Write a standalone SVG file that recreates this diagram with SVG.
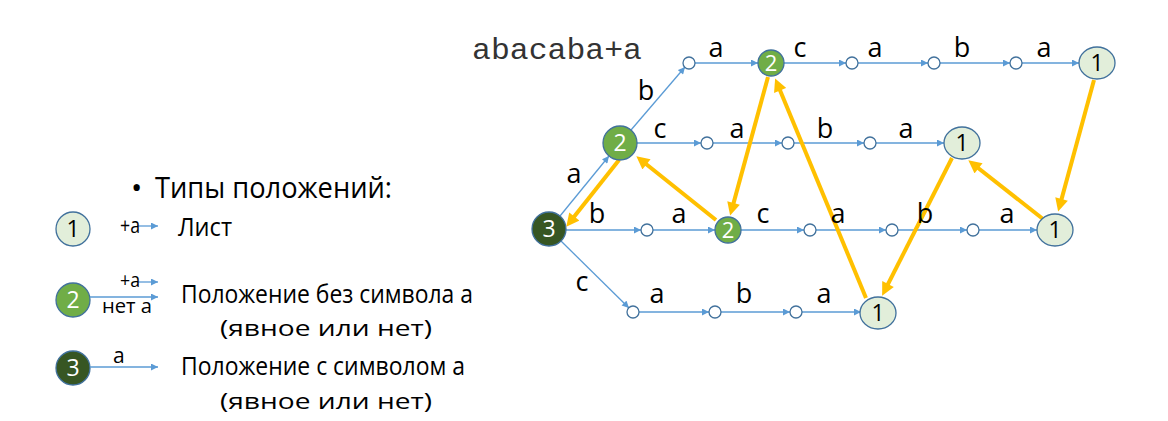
<svg xmlns="http://www.w3.org/2000/svg" width="1168" height="421" viewBox="0 0 1168 421">
<defs>
<style>
.e{stroke:#5B9BD5;stroke-width:1.3;fill:none;marker-end:url(#ba)}
.o{stroke:#FFC000;stroke-width:4;fill:none;marker-end:url(#oa)}
.s{fill:#fff;stroke:#41719C;stroke-width:1.3}
.n1{fill:#E2EEDA;stroke:#41719C;stroke-width:1.3}
.n2{fill:#70AD47;stroke:#41719C;stroke-width:1.3}
.n3{fill:#375623;stroke:#41719C;stroke-width:1.3}
.t{font-family:"Open Sans","Liberation Sans",sans-serif;fill:#000}
.lb{font-family:"Open Sans","Liberation Sans",sans-serif;font-size:27px;fill:#000;text-anchor:middle}
.nt{font-family:"Open Sans","Liberation Sans",sans-serif;text-anchor:middle}
.mono{font-family:"Courier New","Liberation Mono","DejaVu Sans Mono",monospace;font-size:29px;fill:#333}
</style>
<marker id="ba" viewBox="0 0 10 10" refX="10" refY="5" markerWidth="8" markerHeight="7" markerUnits="userSpaceOnUse" orient="auto"><path d="M0,0 L10,5 L0,10 z" fill="#5B9BD5"/></marker>
<marker id="oa" viewBox="0 0 10 10" refX="6" refY="5" markerWidth="14" markerHeight="13" markerUnits="userSpaceOnUse" orient="auto"><path d="M0,0 L10,5 L0,10 z" fill="#FFC000"/></marker>
</defs>

<text class="mono" x="472" y="59" textLength="170" lengthAdjust="spacingAndGlyphs">abacaba+a</text>

<g id="connectors">
<line class="e" x1="695" y1="63" x2="758" y2="63"/>
<line class="e" x1="784" y1="63" x2="846" y2="63"/>
<line class="e" x1="858" y1="63" x2="928" y2="63"/>
<line class="e" x1="940" y1="63" x2="1010" y2="63"/>
<line class="e" x1="1022" y1="63" x2="1079" y2="63"/>
<line class="e" x1="637" y1="143" x2="701" y2="143"/>
<line class="e" x1="713" y1="143" x2="782" y2="143"/>
<line class="e" x1="794" y1="143" x2="864" y2="143"/>
<line class="e" x1="876" y1="143" x2="944" y2="143"/>
<line class="e" x1="566" y1="230" x2="641" y2="230"/>
<line class="e" x1="653" y1="230" x2="715" y2="230"/>
<line class="e" x1="741" y1="230" x2="804" y2="230"/>
<line class="e" x1="816" y1="230" x2="886" y2="230"/>
<line class="e" x1="898" y1="230" x2="967" y2="230"/>
<line class="e" x1="979" y1="230" x2="1037" y2="230"/>
<line class="e" x1="639" y1="312" x2="709" y2="312"/>
<line class="e" x1="721" y1="312" x2="790" y2="312"/>
<line class="e" x1="802" y1="312" x2="861" y2="312"/>
<line class="e" x1="560" y1="216" x2="609" y2="156"/>
<line class="e" x1="631" y1="130" x2="685" y2="67"/>
<line class="e" x1="561" y1="241" x2="629" y2="308"/>
<line class="o" x1="619" y1="160" x2="569.5" y2="222.6"/>
<line class="o" x1="716" y1="220" x2="640.4" y2="159.5"/>
<line class="o" x1="768" y1="77" x2="731.5" y2="210.6"/>
<line class="o" x1="866" y1="298" x2="777.1" y2="83.2"/>
<line class="o" x1="952" y1="158" x2="884.5" y2="291"/>
<line class="o" x1="1043" y1="219" x2="972.4" y2="163.5"/>
<line class="o" x1="1094" y1="80" x2="1059.5" y2="206.6"/>
</g>

<g id="edge-labels">
<text class="lb" x="716" y="57">a</text>
<text class="lb" x="800" y="57">c</text>
<text class="lb" x="875" y="57">a</text>
<text class="lb" x="962" y="57">b</text>
<text class="lb" x="1044" y="57">a</text>
<text class="lb" x="646" y="100">b</text>
<text class="lb" x="660" y="138">c</text>
<text class="lb" x="737" y="138">a</text>
<text class="lb" x="825" y="138">b</text>
<text class="lb" x="906" y="138">a</text>
<text class="lb" x="574" y="183">a</text>
<text class="lb" x="597" y="223">b</text>
<text class="lb" x="679" y="223">a</text>
<text class="lb" x="763" y="223">c</text>
<text class="lb" x="838" y="223">a</text>
<text class="lb" x="925" y="223">b</text>
<text class="lb" x="1007" y="223">a</text>
<text class="lb" x="582" y="291">c</text>
<text class="lb" x="657" y="303">a</text>
<text class="lb" x="744" y="303">b</text>
<text class="lb" x="824" y="303">a</text>
</g>

<g id="s1"><circle class="s" cx="689" cy="63" r="6"/></g>
<g id="s2"><circle class="s" cx="852" cy="63" r="6"/></g>
<g id="s3"><circle class="s" cx="934" cy="63" r="6"/></g>
<g id="s4"><circle class="s" cx="1016" cy="63" r="6"/></g>
<g id="s5"><circle class="s" cx="707" cy="143" r="6"/></g>
<g id="s6"><circle class="s" cx="788" cy="143" r="6"/></g>
<g id="s7"><circle class="s" cx="870" cy="143" r="6"/></g>
<g id="s8"><circle class="s" cx="647" cy="230" r="6"/></g>
<g id="s9"><circle class="s" cx="810" cy="230" r="6"/></g>
<g id="s10"><circle class="s" cx="892" cy="230" r="6"/></g>
<g id="s11"><circle class="s" cx="973" cy="230" r="6"/></g>
<g id="s12"><circle class="s" cx="633" cy="312" r="6"/></g>
<g id="s13"><circle class="s" cx="715" cy="312" r="6"/></g>
<g id="s14"><circle class="s" cx="796" cy="312" r="6"/></g>

<g id="g2top"><circle class="n2" cx="771" cy="63" r="13"/><text class="nt" x="771" y="71" font-size="22" fill="#fff">2</text></g>
<g id="g2mid"><circle class="n2" cx="620" cy="143" r="17"/><text class="nt" x="620" y="151" font-size="23" fill="#fff">2</text></g>
<g id="g2low"><circle class="n2" cx="728" cy="230" r="13"/><text class="nt" x="728" y="238" font-size="22" fill="#fff">2</text></g>
<g id="g3"><circle class="n3" cx="549" cy="229" r="17"/><text class="nt" x="549" y="237" font-size="23" fill="#fff">3</text></g>
<g id="l1a"><ellipse class="n1" cx="1097" cy="63" rx="18" ry="16"/><text class="nt" x="1097" y="71" font-size="23">1</text></g>
<g id="l1b"><ellipse class="n1" cx="962" cy="143" rx="18" ry="16"/><text class="nt" x="962" y="151" font-size="23">1</text></g>
<g id="l1c"><ellipse class="n1" cx="1055" cy="230" rx="18" ry="16"/><text class="nt" x="1055" y="238" font-size="23">1</text></g>
<g id="l1d"><ellipse class="n1" cx="878" cy="313" rx="18" ry="16"/><text class="nt" x="878" y="321" font-size="23">1</text></g>

<g id="legend">
<text class="t" x="131" y="198" font-size="30">• <tspan x="155" textLength="237" lengthAdjust="spacingAndGlyphs">Типы положений:</tspan></text>
<g id="leg1">
<ellipse class="n1" cx="73" cy="229" rx="17" ry="17"/><text class="nt" x="73" y="237" font-size="23">1</text>
<line class="e" x1="137" y1="226" x2="158" y2="226"/>
<text class="t" x="120" y="233" font-size="22" textLength="20" lengthAdjust="spacingAndGlyphs">+a</text>
<text class="t" x="178" y="236" font-size="26" textLength="54" lengthAdjust="spacingAndGlyphs">Лист</text>
</g>
<g id="leg2">
<circle class="n2" cx="73" cy="300" r="17"/><text class="nt" x="73" y="308" font-size="23" fill="#fff">2</text>
<line class="e" x1="137" y1="282" x2="158" y2="282"/>
<line class="e" x1="90" y1="297" x2="158" y2="297"/>
<text class="t" x="120" y="287" font-size="20" textLength="20" lengthAdjust="spacingAndGlyphs">+a</text>
<text class="t" x="102" y="313" font-size="20" textLength="50" lengthAdjust="spacingAndGlyphs">нет а</text>
<text class="t" x="181" y="303" font-size="26" textLength="292" lengthAdjust="spacingAndGlyphs">Положение без символа а</text>
<text class="t" x="220" y="336" font-size="22" textLength="212" lengthAdjust="spacingAndGlyphs">(явное или нет)</text>
</g>
<g id="leg3">
<circle class="n3" cx="73" cy="368" r="17"/><text class="nt" x="73" y="376" font-size="23" fill="#fff">3</text>
<line class="e" x1="90" y1="367" x2="158" y2="367"/>
<text class="t" x="113" y="363" font-size="21">а</text>
<text class="t" x="181" y="375" font-size="26" textLength="284" lengthAdjust="spacingAndGlyphs">Положение с символом а</text>
<text class="t" x="220" y="409" font-size="22" textLength="212" lengthAdjust="spacingAndGlyphs">(явное или нет)</text>
</g>
</g>
</svg>
